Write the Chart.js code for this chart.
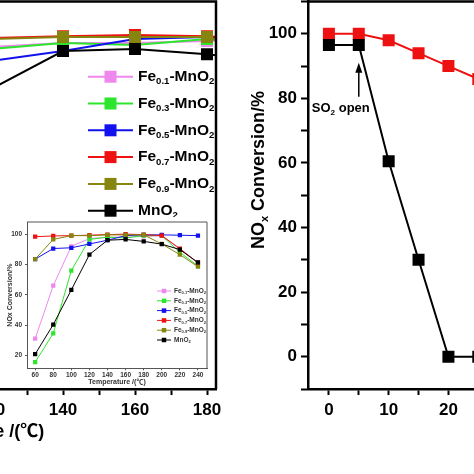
<!DOCTYPE html>
<html>
<head>
<meta charset="utf-8">
<script src="https://cdn.jsdelivr.net/npm/chart.js@4.4.1/dist/chart.umd.min.js"></script>
<style>
  html, body { margin: 0; padding: 0; width: 474px; height: 474px; overflow: hidden; background: #fff; }
  body { position: relative; }
  canvas { position: absolute; }
  #main { left: -300px; top: 0; }
  #inset { left: 0; top: 217px; background: #fff; }
  #right { left: 250px; top: 0; }
</style>
</head>
<body>
<canvas id="main" width="540" height="474"></canvas>
<canvas id="inset" width="212" height="169"></canvas>
<canvas id="right" width="300" height="474"></canvas>
<script>
// temperature series (NOx conversion, %)
const tempLabels = [60, 80, 100, 120, 140, 160, 180, 200, 220, 240];
const seriesNames = ['Fe_0.1-MnO_2', 'Fe_0.3-MnO_2', 'Fe_0.5-MnO_2', 'Fe_0.7-MnO_2', 'Fe_0.9-MnO_2', 'MnO_2'];
const fe01 = [31, 66, 92, 97, 98, 98, 98.5, 99, 90, 81];
const fe03 = [15.5, 34.5, 76, 96.5, 98, 97.5, 99, 99, 88, 79];
const fe05 = [83.5, 90.5, 91, 93.5, 96, 99, 99.5, 99.5, 99.3, 99];
const fe07 = [98.3, 98.8, 99, 99.3, 99.7, 100, 99.7, 99, 90.5, 81];
const fe09 = [83.5, 96.5, 99, 99, 99.5, 99.5, 99.5, 93.5, 86.5, 78.5];
const mno2 = [20.8, 40.3, 63.2, 86.5, 96, 96.5, 95.2, 93.4, 89.8, 81.3];
const seriesColors = ['#ee88ee', '#2ee52e', '#1212ee', '#ee1111', '#85850f', '#000000'];

// SO2 resistance series
const timeLabels = [0, 5, 10, 15, 20, 25];
const so2Fe = [100, 100, 98, 94, 90, 86];
const so2Mn = [96.5, 96.5, 60.5, 30, 0, 0];
const so2OpenAt = 5;
const so2ArrowFrom = 80.5;
const so2ArrowTo = 91;

const FONT = '"Liberation Sans", Arial, sans-serif';
const TITLE_FONT = '"Liberation Sans", Arial, "Noto Sans CJK SC", sans-serif';

/**
 * "Fe_0.1-MnO_2" -> text parts, subscripts marked
 */
function richParts(text) {
    return text.split(/_([0-9.x]+)/).map((t, i) => ({t: t, sub: i % 2 === 1})).filter(p => p.t);
}

function drawRich(ctx, text, x, y, size, align) {
    var parts = richParts(text);
    var w = 0;
    parts.forEach(p => {
        ctx.font = 'bold ' + (p.sub ? size * 0.62 : size) + 'px ' + FONT;
        p.w = ctx.measureText(p.t).width;
        w += p.w;
    });
    var cx = align === 'center' ? x - w / 2 : (align === 'right' ? x - w : x);
    ctx.textAlign = 'left';
    ctx.textBaseline = 'middle';
    parts.forEach(p => {
        ctx.font = 'bold ' + (p.sub ? size * 0.62 : size) + 'px ' + FONT;
        ctx.fillText(p.t, cx, p.sub ? y + size * 0.32 : y);
        cx += p.w;
    });
}

function points(xs, ys) {
    return xs.map((x, i) => ({x: x, y: ys[i]}));
}

//no extra room for overflowing tick labels
function noPad(s) {
    s.paddingTop = 0;
    s.paddingBottom = 0;
    s.paddingLeft = 0;
    s.paddingRight = 0;
}

//top + right border of the plot box
const frame = {
    id: 'frame',
    afterDraw(chart, args, opts) {
        const {ctx, chartArea: a} = chart;
        ctx.save();
        ctx.strokeStyle = opts.color || '#000';
        ctx.lineWidth = opts.width || 2;
        ctx.beginPath();
        ctx.moveTo(a.left, a.top);
        ctx.lineTo(a.right, a.top);
        ctx.lineTo(a.right, a.bottom);
        ctx.stroke();
        ctx.restore();
    }
};

//legend with subscripts
const richLegend = {
    id: 'richLegend',
    afterDraw(chart, args, opts) {
        const {ctx, chartArea: a} = chart;
        ctx.save();
        chart.data.datasets.forEach((ds, i) => {
            var x = a.right + opts.dx;
            var y = a.top + opts.dy + i * opts.gap;
            ctx.strokeStyle = ds.borderColor;
            ctx.lineWidth = opts.lineWidth;
            ctx.beginPath();
            ctx.moveTo(x, y);
            ctx.lineTo(x + opts.len, y);
            ctx.stroke();
            ctx.fillStyle = ds.backgroundColor;
            ctx.fillRect(x + opts.len / 2 - opts.box / 2, y - opts.box / 2, opts.box, opts.box);
            ctx.fillStyle = opts.color;
            drawRich(ctx, ds.label, x + opts.len + opts.textGap, y, opts.size, 'left');
        });
        ctx.restore();
    }
};

function makeDatasets(radius, width) {
    return [fe01, fe03, fe05, fe07, fe09, mno2].map((arr, i) => ({
        label: seriesNames[i],
        data: points(tempLabels, arr),
        borderColor: seriesColors[i],
        backgroundColor: seriesColors[i],
        borderWidth: width,
        pointStyle: 'rect',
        pointRadius: radius,
        pointBorderWidth: 0,
        tension: 0,
        order: 5 - i
    }));
}

function onlyEvery(step) {
    return function (v) { return v % step === 0 ? v : ''; };
}

/**
 * Main temperature chart (mostly cropped away to the left)
 */
new Chart(document.getElementById('main'), {
    type: 'line',
    data: {datasets: makeDatasets(8.5, 2)},
    plugins: [frame, richLegend],
    options: {
        responsive: false,
        animation: false,
        devicePixelRatio: 1,
        layout: {autoPadding: false, padding: {left: 24.6, right: 24, top: 1.5, bottom: 0}},
        plugins: {
            legend: {display: false},
            tooltip: {enabled: false},
            frame: {width: 2.5, color: '#000'},
            richLegend: {dx: -128, dy: 75.2, gap: 26.8, len: 45, box: 12, size: 15.5, textGap: 5, lineWidth: 2, color: '#000'}
        },
        scales: {
            x: {
                type: 'linear', min: 46, max: 182.5,
                afterFit: (s) => { s.height = 85; noPad(s); },
                border: {display: true, color: '#000', width: 2.5},
                grid: {drawOnChartArea: false, drawTicks: true, tickLength: 6, tickWidth: 2, tickColor: '#000'},
                ticks: {stepSize: 10, includeBounds: false, autoSkip: false, maxRotation: 0, padding: 5,
                    color: '#000', font: {family: FONT, size: 17, weight: 'bold'}, callback: onlyEvery(20)},
                title: {display: true, text: 'Temperature /(℃)', color: '#000',
                    font: {family: TITLE_FONT, size: 18, weight: 'bold'}, padding: {top: 0, bottom: 31}}
            },
            y: {display: false, min: 11.5, max: 108.4}
        }
    }
});

/**
 * Inset: full temperature range
 */
new Chart(document.getElementById('inset'), {
    type: 'line',
    data: {datasets: makeDatasets(3, 1)},
    plugins: [frame, richLegend],
    options: {
        responsive: false,
        animation: false,
        devicePixelRatio: 1,
        layout: {autoPadding: false, padding: {left: 0, right: 5, top: 5, bottom: 0}},
        plugins: {
            legend: {display: false},
            tooltip: {enabled: false},
            frame: {width: 1, color: '#555'},
            richLegend: {dx: -50, dy: 69, gap: 9.8, len: 14, box: 4.5, size: 6.5, textGap: 3, lineWidth: 1, color: '#333'}
        },
        scales: {
            x: {
                type: 'linear', min: 51, max: 250,
                afterFit: (s) => { s.height = 17.7; noPad(s); },
                border: {display: true, color: '#555', width: 1},
                grid: {drawOnChartArea: false, drawTicks: true, tickLength: 2, tickWidth: 1, tickColor: '#555'},
                ticks: {stepSize: 20, includeBounds: false, autoSkip: false, maxRotation: 0, padding: 1,
                    color: '#333', font: {family: FONT, size: 6.5, weight: 'bold'}},
                title: {display: true, text: 'Temperature /(℃)', color: '#333',
                    font: {family: TITLE_FONT, size: 7, weight: 'bold', lineHeight: 1}, padding: 0}
            },
            y: {
                min: 11.5, max: 108,
                afterFit: (s) => { s.width = 27; noPad(s); },
                border: {display: true, color: '#555', width: 1},
                grid: {drawOnChartArea: false, drawTicks: true, tickLength: 2, tickWidth: 1, tickColor: '#555'},
                ticks: {stepSize: 20, includeBounds: false, padding: 3,
                    color: '#333', font: {family: FONT, size: 6.5, weight: 'bold'}},
                title: {display: true, text: 'NOx Conversion/%', color: '#333',
                    font: {family: FONT, size: 7, weight: 'bold', lineHeight: 1}, padding: {top: 7, bottom: 0}}
            }
        }
    }
});

//SO2 open arrow + rotated y title
const so2Notes = {
    id: 'so2Notes',
    afterDraw(chart) {
        const {ctx, chartArea: a, scales: {x, y}} = chart;
        ctx.save();
        var ax = x.getPixelForValue(so2OpenAt);
        var y0 = y.getPixelForValue(so2ArrowFrom);
        var y1 = y.getPixelForValue(so2ArrowTo);
        ctx.strokeStyle = '#000';
        ctx.fillStyle = '#000';
        ctx.lineWidth = 1.5;
        ctx.beginPath();
        ctx.moveTo(ax, y0);
        ctx.lineTo(ax, y1 + 6);
        ctx.stroke();
        ctx.beginPath();
        ctx.moveTo(ax, y1);
        ctx.lineTo(ax - 3.5, y1 + 10);
        ctx.lineTo(ax + 3.5, y1 + 10);
        ctx.closePath();
        ctx.fill();
        drawRich(ctx, 'SO_2 open', ax - 18, y0 + 11.5, 13, 'center');

        ctx.translate(a.left - 49, a.top + 168.5);
        ctx.rotate(-Math.PI / 2);
        drawRich(ctx, 'NO_x Conversion/%', 0, 0, 18, 'center');
        ctx.restore();
    }
};

/**
 * SO2 resistance chart (cropped to the right)
 */
new Chart(document.getElementById('right'), {
    type: 'line',
    data: {
        datasets: [{
            label: 'Fe0.7-MnO2',
            data: points(timeLabels, so2Fe),
            borderColor: '#ee1111', backgroundColor: '#ee1111',
            borderWidth: 2, pointStyle: 'rect', pointRadius: 8.5, pointBorderWidth: 0, tension: 0, order: 1
        }, {
            label: 'MnO2',
            data: points(timeLabels, so2Mn),
            borderColor: '#000', backgroundColor: '#000',
            borderWidth: 2, pointStyle: 'rect', pointRadius: 8.5, pointBorderWidth: 0, tension: 0, order: 0
        }]
    },
    plugins: [frame, so2Notes],
    options: {
        responsive: false,
        animation: false,
        devicePixelRatio: 1,
        layout: {autoPadding: false, padding: {left: 0, right: 0, top: 1.5, bottom: 0}},
        plugins: {
            legend: {display: false},
            tooltip: {enabled: false},
            frame: {width: 2.5, color: '#000'}
        },
        scales: {
            x: {
                type: 'linear', min: -3.5, max: 37,
                afterFit: (s) => { s.height = 85; noPad(s); },
                border: {display: true, color: '#000', width: 2.5},
                grid: {drawOnChartArea: false, drawTicks: true, tickLength: 6, tickWidth: 2, tickColor: '#000'},
                ticks: {stepSize: 5, includeBounds: false, autoSkip: false, maxRotation: 0, padding: 5,
                    color: '#000', font: {family: FONT, size: 17, weight: 'bold'}, callback: onlyEvery(10)}
            },
            y: {
                min: -10, max: 110,
                afterFit: (s) => { s.width = 58; noPad(s); },
                border: {display: true, color: '#000', width: 2.5},
                grid: {drawOnChartArea: false, drawTicks: true, tickLength: 7, tickWidth: 2, tickColor: '#000'},
                ticks: {stepSize: 10, includeBounds: false, autoSkip: false, padding: 4,
                    color: '#000', font: {family: FONT, size: 17, weight: 'bold'}, callback: onlyEvery(20)}
            }
        }
    }
});
</script>
</body>
</html>
